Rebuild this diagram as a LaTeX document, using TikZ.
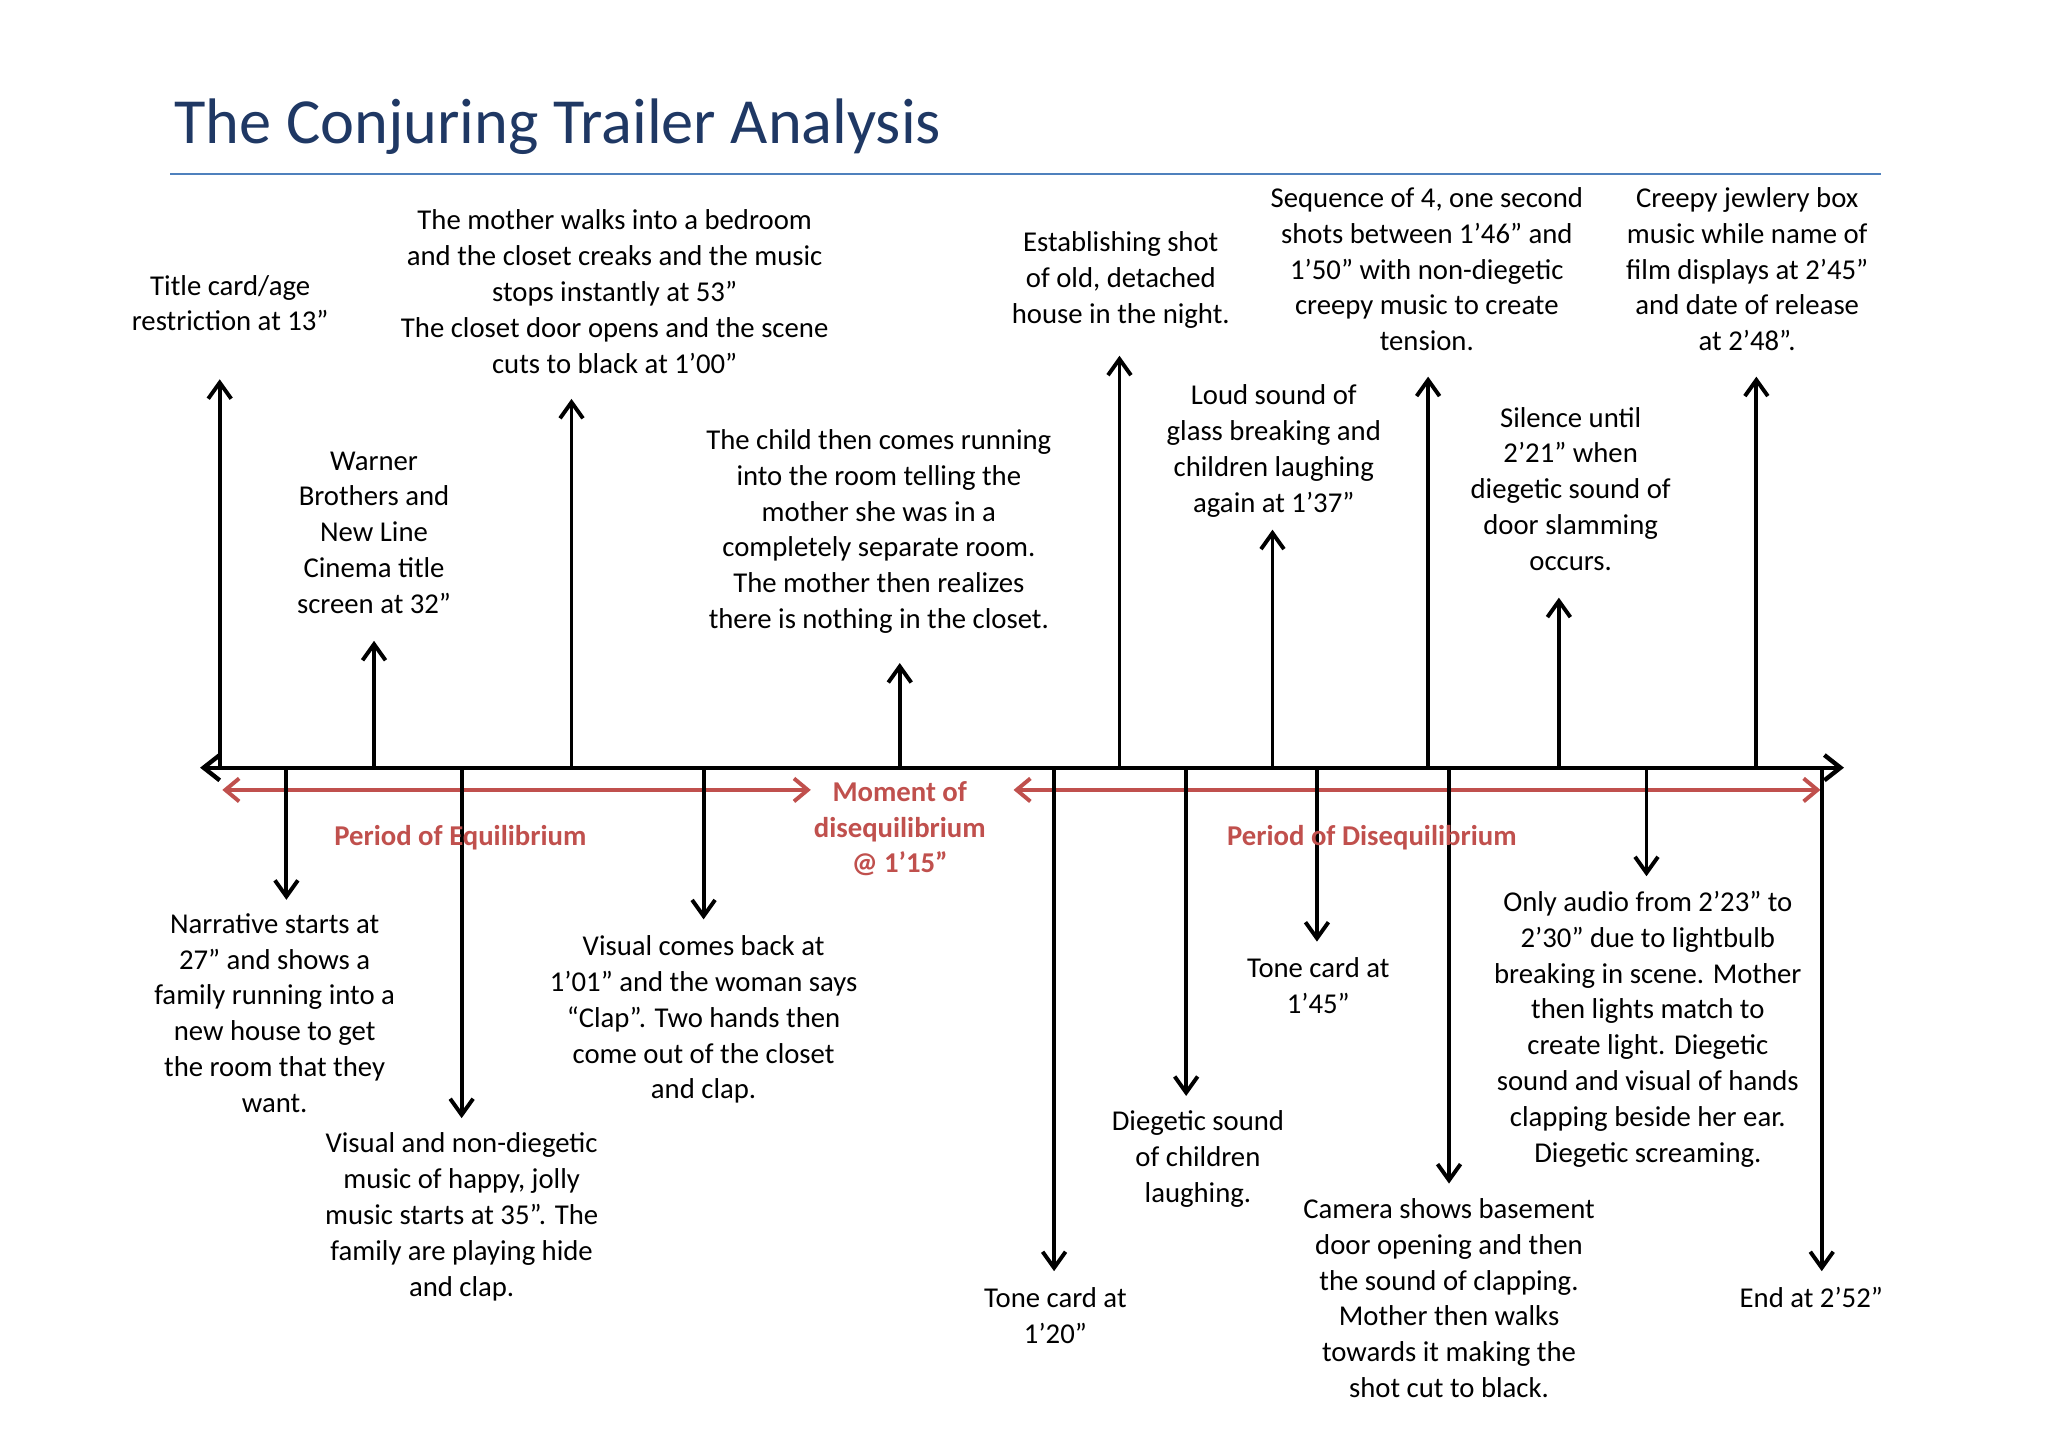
\documentclass[tikz,border=0pt]{standalone}
\usepackage{fontspec}
\setmainfont{Carlito}
\usetikzlibrary{arrows.meta}
\definecolor{navy}{RGB}{31,56,100}
\definecolor{rule}{RGB}{79,129,189}
\definecolor{redc}{RGB}{192,80,77}
\begin{document}
\begin{tikzpicture}[x=0.02cm,y=-0.02cm,
  txt/.style={align=center,anchor=north,inner sep=0pt,font=\fontsize{12.5}{15.6}\selectfont},
  lbl/.style={align=center,anchor=north,inner sep=0pt,text=redc,font=\fontsize{12.5}{15.6}\selectfont\bfseries},
  arr/.style={line width=1.7pt,-{Straight Barb[length=7pt,width=10pt,line width=1.7pt]}},
  rarr/.style={line width=1.7pt,redc,{Straight Barb[length=6pt,width=10pt,line width=1.7pt]}-{Straight Barb[length=6pt,width=10pt,line width=1.7pt]}}]
\useasboundingbox (0,0) rectangle (1566,1107);
\node[anchor=west,inner sep=0pt,text=navy,font=\fontsize{28}{34}\selectfont] (title) at (133,97) {The Conjuring Trailer Analysis};
\coordinate (r1) at (130,133); \coordinate (r2) at (1438,133);
\draw[rule,line width=0.8pt] (r1) -- (r2);
% axis
\coordinate (al) at (153,587); \coordinate (ar) at (1410,587);
\draw[line width=1.9pt,{Straight Barb[length=7pt,width=11pt,line width=1.9pt]}-{Straight Barb[length=7pt,width=11pt,line width=1.9pt]}] (al) -- (ar);
\coordinate (e1) at (170,604); \coordinate (e2) at (620,604);
\coordinate (d1) at (775,604); \coordinate (d2) at (1392,604);
\draw[rarr] (e1) -- (e2);
\draw[rarr] (d1) -- (d2);
% up arrows
\foreach \n/\x/\t in {u1/168/290,u2/286/490,u3/437/305,u4/688/507,u5/856/272,u6/973/405,u7/1092/288,u8/1192/457,u9/1343/288}{
  \coordinate (\n a) at (\x,587); \coordinate (\n b) at (\x,\t);
  \draw[arr] (\n a) -- (\n b);}
% down arrows
\foreach \n/\x/\t in {w1/219/688,w2/353/855,w3/538/703,w4/806/972,w5/907/838,w6/1007/720,w7/1108/905,w8/1259/670,w9/1393/972}{
  \coordinate (\n a) at (\x,587); \coordinate (\n b) at (\x,\t);
  \draw[arr] (\n a) -- (\n b);}
% labels
\node[lbl] (pe) at (352,631) {Period of Equilibrium};
\node[lbl] (md) at (688,597) {Moment of\\disequilibrium\\@ 1’15”};
\node[lbl] (pd) at (1049,631) {Period of Disequilibrium};
% top texts
\node[txt] (t1) at (176,210) {Title card/age\\restriction at 13”};
\node[txt] (t2) at (286,345) {Warner\\Brothers and\\New Line\\Cinema title\\screen at 32”};
\node[txt] (t3) at (470,160) {The mother walks into a bedroom\\and the closet creaks and the music\\stops instantly at 53”\\The closet door opens and the scene\\cuts to black at 1’00”};
\node[txt] (t4) at (672,328) {The child then comes running\\into the room telling the\\mother she was in a\\completely separate room.\\The mother then realizes\\there is nothing in the closet.};
\node[txt] (t5) at (857,177) {Establishing shot\\of old, detached\\house in the night.};
\node[txt] (t6) at (974,294) {Loud sound of\\glass breaking and\\children laughing\\again at 1’37”};
\node[txt] (t7) at (1091,143) {Sequence of 4, one second\\shots between 1’46” and\\1’50” with non-diegetic\\creepy music to create\\tension.};
\node[txt] (t8) at (1201,311) {Silence until\\2’21” when\\diegetic sound of\\door slamming\\occurs.};
\node[txt] (t9) at (1336,143) {Creepy jewlery box\\music while name of\\film displays at 2’45”\\and date of release\\at 2’48”.};
% bottom texts
\node[txt] (b1) at (210,698) {Narrative starts at\\27” and shows a\\family running into a\\new house to get\\the room that they\\want.};
\node[txt] (b2) at (353,866) {Visual  and non-diegetic\\music of happy, jolly\\music starts at 35”. The\\family are playing hide\\and clap.};
\node[txt] (b3) at (538,715) {Visual comes back at\\1’01” and the woman says\\“Clap”. Two hands then\\come out of the closet\\and clap.};
\node[txt] (b4) at (807,984) {Tone card at\\1’20”};
\node[txt] (b5) at (916,849) {Diegetic sound\\of children\\laughing.};
\node[txt] (b6) at (1008,732) {Tone card at\\1’45”};
\node[txt] (b7) at (1108,916) {Camera shows basement\\door opening and then\\the sound of clapping.\\Mother then walks\\towards it making the\\shot cut to black.};
\node[txt] (b8) at (1260,681) {Only audio from 2’23” to\\2’30” due to lightbulb\\breaking in scene. Mother\\then lights match to\\create light. Diegetic\\sound and visual of hands\\clapping beside her ear.\\Diegetic screaming.};
\node[txt] (b9) at (1385,984) {End at 2’52”};
\end{tikzpicture}
\end{document}
